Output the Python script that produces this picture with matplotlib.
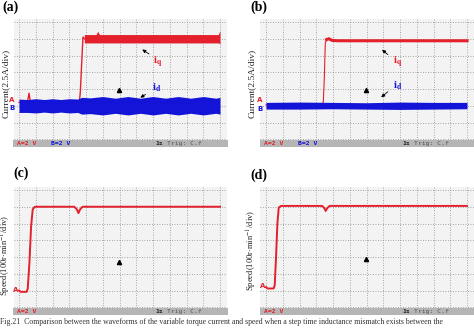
import numpy as np
import matplotlib
matplotlib.use("Agg")
import matplotlib.pyplot as plt

plt.rcParams['mathtext.fontset'] = 'stix'

W, H = 474, 329
RED = '#e3202c'
BLUE = '#1414d8'
BG = '#f3f3f3'
BAR = '#b5b5b5'
DIV = 16.75  # pixels per scope division

# ---------------- data (in scope divisions) ----------------
# (a) iq step, noisy id band
iq_a_x = [0.0, 0.5, 0.6, 0.68, 3.6, 3.66, 3.74, 3.82, 3.9]
iq_a_y = [2.2, 2.2, 2.75, 2.2, 2.2, 2.8, 4.5, 6.1, 6.0]
iq_a_band_x = [3.9, 4.6, 4.7, 4.8, 11.9, 12.0]
iq_a_hi = [6.25, 6.25, 6.45, 6.25, 6.25, 6.5]
iq_a_lo = [5.75, 5.75, 5.75, 5.75, 5.75, 5.7]
id_a_x = [0, 0.5, 1, 1.5, 2, 2.5, 3, 3.5, 3.75, 4.25, 5, 5.75, 6.5, 7.25, 8,
          8.75, 9.5, 10.25, 11, 11.75, 12]
id_a_hi = [2.4, 2.37, 2.42, 2.37, 2.42, 2.37, 2.42, 2.4, 2.5, 2.47, 2.55, 2.45,
           2.55, 2.45, 2.55, 2.45, 2.55, 2.45, 2.55, 2.45, 2.5]
id_a_lo = [1.6, 1.6, 1.57, 1.62, 1.57, 1.62, 1.57, 1.6, 1.5, 1.53, 1.45, 1.55,
           1.45, 1.55, 1.45, 1.55, 1.45, 1.55, 1.45, 1.55, 1.5]

# (b) iq step, clean id band
iq_b_x = [0.0, 3.3, 3.42, 3.48, 3.54, 3.62, 3.75, 3.95, 4.3, 12.0]
iq_b_y = [2.05, 2.05, 2.2, 3.6, 5.75, 5.95, 6.0, 5.9, 5.88, 5.88]
id_b_x = [0, 2, 4, 6, 8, 10, 12]
id_b_hi = [2.2, 2.22, 2.2, 2.18, 2.22, 2.2, 2.2]
id_b_lo = [1.8, 1.8, 1.82, 1.8, 1.78, 1.8, 1.82]

# (c) speed
spd_c_x = [0.0, 0.1, 0.2, 0.45, 0.52, 0.62, 0.72, 0.82, 0.95, 3.3, 3.45,
           3.55, 3.65, 3.8, 12.0]
spd_c_y = [1.0, 0.92, 0.92, 0.92, 1.1, 2.6, 4.8, 5.85, 6.0, 6.0, 5.85,
           5.62, 5.85, 6.0, 6.0]

# (d) speed
spd_d_x = [0.0, 0.1, 0.2, 0.45, 0.52, 0.6, 0.68, 0.76, 0.9, 3.35, 3.48,
           3.56, 3.66, 3.8, 12.0]
spd_d_y = [1.2, 1.12, 1.12, 1.12, 1.3, 3.0, 5.0, 5.95, 6.05, 6.05, 5.92,
           5.75, 5.92, 6.05, 6.05]

cur_label = 'Current(2.5A/div)'
spd_label = r'Speed(100r$\cdot$min$^{-1}$/div)'
caption = ('Fig.21  Comparison between the waveforms of the variable torque current '
           'and speed when a step time inductance mismatch exists between the')


def box(x0, y0, x1, y1):
    return [x0 / W, 1 - y1 / H, (x1 - x0) / W, (y1 - y0) / H]


def scope(fig, bx0, by0, bx1, by1, gx0, gy0):
    ax = fig.add_axes(box(bx0, by0, bx1, by1))
    ax.set_facecolor(BG)
    ax.set_xlim((bx0 - gx0) / DIV, (bx1 - gx0) / DIV)
    ax.set_ylim(7 - (by1 - gy0) / DIV, 7 - (by0 - gy0) / DIV)
    for v in range(13):
        ax.axvline(v, color='#8c8c8c', lw=0.6, ls=(0, (1, 2)), zorder=0)
    for h in range(8):
        ax.axhline(h, color='#8c8c8c', lw=0.6, ls=(0, (1, 2)), zorder=0)
    ax.set_xticks([])
    ax.set_yticks([])
    for s in ax.spines.values():
        s.set_visible(False)
    return ax


def status(fig, x0, y0, x1, y1, two):
    ax = fig.add_axes(box(x0, y0, x1, y1))
    ax.set_facecolor(BAR)
    ax.set_xticks([])
    ax.set_yticks([])
    for s in ax.spines.values():
        s.set_visible(False)
    ax.set_xlim(x0, x1)
    ax.set_ylim(0, 1)
    fnt = dict(family='DejaVu Sans Mono', weight='bold', size=4.6, va='center')
    ax.text(x0 + 4, 0.45, 'A=2 V', color=RED, **fnt)
    if two:
        ax.text(x0 + 38, 0.45, 'B=2 V', color=BLUE, **fnt)
    ax.text(x0 + 142, 0.45, '1s', color='#202020', **fnt)
    ax.text(x0 + 154, 0.45, 'Trig: C.f', color='#555555',
            **dict(fnt, weight='normal'))


fig = plt.figure(figsize=(W / 100, H / 100), dpi=100)

serif = 'Liberation Serif'
for lab, x, y in [('(a)', 2, 7), ('(b)', 250, 7), ('(c)', 13, 173), ('(d)', 250, 175)]:
    fig.text(x / W, 1 - y / H, lab, family=serif, weight='bold', size=10, va='center')
for lab, x, y, fs in [(cur_label, 6, 83, 6.8), (cur_label, 252, 83, 6.8),
                      (spd_label, 6, 255, 6.2), (spd_label, 252, 250, 6.2)]:
    fig.text(x / W, 1 - y / H, lab, family=serif, size=fs, rotation=90,
             ha='center', va='center', color='#222222')

# (a)
ax = scope(fig, 14, 19, 227, 139.5, 19, 22)
ax.plot(iq_a_x, iq_a_y, color=RED, lw=1.0, zorder=2)
ax.fill_between(id_a_x, id_a_lo, id_a_hi, color=BLUE, lw=0, zorder=3)
ax.fill_between(iq_a_band_x, iq_a_lo, iq_a_hi, color=RED, lw=0, zorder=4)
ax.text(-0.25, 2.35, 'A', color=RED, size=5, weight='bold', va='center', ha='right')
ax.text(-0.25, 1.85, 'B', color=BLUE, size=5, weight='bold', va='center', ha='right')
ax.plot([5.97], [2.94], marker='^', color='k', ms=3)
ax.annotate('', xy=(7.22, 5.45), xytext=(7.9, 5.0),
            arrowprops=dict(arrowstyle='-|>', color='k', lw=0.6, mutation_scale=5))
ax.text(8.0, 4.6, r'$\mathbf{i_q}$', color=RED, size=8, va='center')
ax.annotate('', xy=(7.1, 2.4), xytext=(7.7, 2.76),
            arrowprops=dict(arrowstyle='-|>', color='k', lw=0.6, mutation_scale=5))
ax.text(7.95, 3.1, r'$\mathbf{i_d}$', color=BLUE, size=8, va='center')
status(fig, 13, 139.5, 228, 147, True)

# (b)
ax = scope(fig, 260, 19, 474, 139.5, 266, 22)
ax.plot(iq_b_x, iq_b_y, color=RED, lw=0.8, zorder=3)
ax.fill_between(id_b_x, id_b_lo, id_b_hi, color=BLUE, lw=0, zorder=4)
ax.plot([x for x in iq_b_x if x >= 3.62], [y for x, y in zip(iq_b_x, iq_b_y) if x >= 3.62],
        color=RED, lw=2.2, zorder=4)
ax.text(-0.2, 2.35, 'A', color=RED, size=5, weight='bold', va='center', ha='right')
ax.text(-0.2, 1.8, 'B', color=BLUE, size=5, weight='bold', va='center', ha='right')
ax.plot([5.97], [2.94], marker='^', color='k', ms=3)
ax.annotate('', xy=(6.8, 5.45), xytext=(7.4, 4.95),
            arrowprops=dict(arrowstyle='-|>', color='k', lw=0.6, mutation_scale=5))
ax.text(7.6, 4.6, r'$\mathbf{i_q}$', color=RED, size=8, va='center')
ax.annotate('', xy=(6.75, 2.4), xytext=(7.4, 2.94),
            arrowprops=dict(arrowstyle='-|>', color='k', lw=0.6, mutation_scale=5))
ax.text(7.6, 3.2, r'$\mathbf{i_d}$', color=BLUE, size=8, va='center')
status(fig, 260, 139.5, 474, 147, True)

# (c)
ax = scope(fig, 14, 187, 227, 307.5, 19, 190)
ax.plot(spd_c_x, spd_c_y, color=RED, lw=1.4, zorder=3)
ax.text(-0.05, 1.05, 'A', color=RED, size=5, weight='bold', va='center', ha='right')
ax.plot([5.97], [2.7], marker='^', color='k', ms=3)
status(fig, 13, 307.5, 228, 315, False)

# (d)
ax = scope(fig, 260, 187, 474, 307.5, 266, 190)
ax.plot(spd_d_x, spd_d_y, color=RED, lw=1.4, zorder=3)
ax.text(-0.05, 1.25, 'A', color=RED, size=5, weight='bold', va='center', ha='right')
ax.plot([5.97], [2.88], marker='^', color='k', ms=3)
status(fig, 260, 307.5, 474, 315, False)

fig.text(0.0, 1 - 318 / H, caption, family=serif, size=5.6, va='top', color='#333333')

fig.savefig('out.png', dpi=100)
